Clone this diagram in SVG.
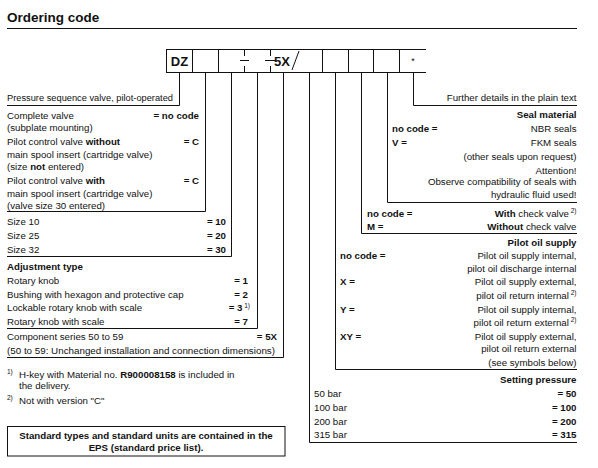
<svg xmlns="http://www.w3.org/2000/svg" width="598" height="468" viewBox="0 0 598 468">
<style>
text{font-family:"Liberation Sans",Arial,sans-serif;font-size:9.7px;fill:#111}
.b{font-weight:bold}
.r{text-anchor:end}
.c{text-anchor:middle}
.t{font-size:13.5px;font-weight:bold}
.code{font-size:13px;font-weight:bold}
.sup{font-size:6.5px}
.ln{stroke:#111;stroke-width:1;fill:none}
</style>
<rect width="598" height="468" fill="#fff"/>
<g id="title">
<text x="7" y="22" class="t">Ordering code</text>
<line class="ln" x1="7" y1="28.5" x2="577" y2="28.5"/>
</g>
<g id="code-box">
<path class="ln" d="M166,49.5H426M166,72.5H426M166.5,49.5V72.5M192.5,49.5V72.5M218.5,49.5V72.5M322.5,49.5V72.5M348.5,49.5V72.5M373.5,49.5V72.5M399.5,49.5V72.5"/>
<path class="ln" d="M244.5,49.5V56M244.5,66V72.5M270.5,49.5V56M270.5,66V72.5M240,60.5H249M265,60.5H275"/>
<path class="ln" d="M292,70L299,51"/>
<text x="179.5" y="65.5" class="code c">DZ</text>
<text x="274" y="65.5" class="code">5X</text>
<text x="413" y="64" class="c" style="font-size:9px">*</text>
</g>
<g id="connectors">
<path class="ln" d="M179.5,72.5V105.5H7"/>
<path class="ln" d="M205.5,72.5V211.5H7"/>
<path class="ln" d="M231.5,72.5V256.5H7"/>
<path class="ln" d="M257.5,72.5V328.5H7"/>
<path class="ln" d="M283.5,72.5V357.5H7"/>
<path class="ln" d="M309.5,72.5V442.5H577"/>
<path class="ln" d="M335.5,72.5V369.5H577"/>
<path class="ln" d="M361.5,72.5V233.5H577"/>
<path class="ln" d="M387.5,72.5V202.5H577"/>
<path class="ln" d="M413.5,72.5V105.5H577"/>
</g>
<g id="type">
<text x="7" y="100.5" textLength="166" lengthAdjust="spacingAndGlyphs">Pressure sequence valve, pilot-operated</text>
</g>
<g id="version">
<text x="7" y="118.5">Complete valve</text>
<text x="199" y="118.5" class="b r">= no code</text>
<text x="7" y="131">(subplate mounting)</text>
<text x="7" y="145">Pilot control valve <tspan class="b">without</tspan></text>
<text x="199" y="145" class="b r">= C</text>
<text x="7" y="157.5">main spool insert (cartridge valve)</text>
<text x="7" y="170">(size <tspan class="b">not</tspan> entered)</text>
<text x="7" y="184">Pilot control valve <tspan class="b">with</tspan></text>
<text x="199" y="184" class="b r">= C</text>
<text x="7" y="196.5">main spool insert (cartridge valve)</text>
<text x="7" y="208.5">(valve size 30 entered)</text>
</g>
<g id="size">
<text x="7" y="224.5">Size 10</text>
<text x="226" y="224.5" class="b r">= 10</text>
<text x="7" y="238.5">Size 25</text>
<text x="226" y="238.5" class="b r">= 20</text>
<text x="7" y="252.5">Size 32</text>
<text x="226" y="252.5" class="b r">= 30</text>
</g>
<g id="adjustment">
<text x="7" y="269.5" class="b">Adjustment type</text>
<text x="7" y="283.5">Rotary knob</text>
<text x="248" y="283.5" class="b r">= 1</text>
<text x="7" y="297.5">Bushing with hexagon and protective cap</text>
<text x="248" y="297.5" class="b r">= 2</text>
<text x="7" y="311">Lockable rotary knob with scale</text>
<text x="250" y="311" class="r"><tspan class="b">= 3</tspan><tspan class="sup" dy="-3.5"> 1)</tspan></text>
<text x="7" y="325">Rotary knob with scale</text>
<text x="248" y="325" class="b r">= 7</text>
</g>
<g id="series">
<text x="7" y="340">Component series 50 to 59</text>
<text x="277" y="340" class="b r">= 5X</text>
<text x="7" y="353.5" textLength="268" lengthAdjust="spacingAndGlyphs">(50 to 59: Unchanged installation and connection dimensions)</text>
</g>
<g id="footnotes">
<text x="7" y="374" class="sup">1)</text>
<text x="19" y="377.5">H-key with Material no. <tspan class="b">R900008158</tspan> is included in</text>
<text x="19" y="389">the delivery.</text>
<text x="7" y="400" class="sup">2)</text>
<text x="19" y="403.5">Not with version "C"</text>
</g>
<g id="note">
<rect class="ln" x="7.5" y="426.5" width="277.5" height="29.5"/>
<text x="146" y="438.5" class="b c">Standard types and standard units are contained in the</text>
<text x="146" y="451" class="b c">EPS (standard price list).</text>
</g>
<g id="further">
<text x="576.5" y="100.5" class="r">Further details in the plain text</text>
</g>
<g id="seal">
<text x="576.5" y="118" class="b r">Seal material</text>
<text x="392" y="131.5" class="b">no code =</text>
<text x="576.5" y="131.5" class="r">NBR seals</text>
<text x="392" y="145.5" class="b">V =</text>
<text x="576.5" y="145.5" class="r">FKM seals</text>
<text x="576.5" y="159.5" class="r">(other seals upon request)</text>
<text x="576.5" y="173.5" class="r">Attention!</text>
<text x="576.5" y="185" class="r">Observe compatibility of seals with</text>
<text x="576.5" y="198" class="r">hydraulic fluid used!</text>
</g>
<g id="check-valve">
<text x="367" y="216.5" class="b">no code =</text>
<text x="576.5" y="216.5" class="r"><tspan class="b">With</tspan> check valve<tspan class="sup" dy="-3.5"> 2)</tspan></text>
<text x="367" y="230" class="b">M =</text>
<text x="576.5" y="230" class="r"><tspan class="b">Without</tspan> check valve</text>
</g>
<g id="pilot-oil">
<text x="576.5" y="245.5" class="b r">Pilot oil supply</text>
<text x="340" y="258.5" class="b">no code =</text>
<text x="576.5" y="258.5" class="r">Pilot oil supply internal,</text>
<text x="576.5" y="272" class="r">pilot oil discharge internal</text>
<text x="340" y="285" class="b">X =</text>
<text x="576.5" y="285" class="r">Pilot oil supply external,</text>
<text x="576.5" y="298.5" class="r">pilot oil return internal<tspan class="sup" dy="-3.5"> 2)</tspan></text>
<text x="340" y="312.5" class="b">Y =</text>
<text x="576.5" y="312.5" class="r">Pilot oil supply internal,</text>
<text x="576.5" y="325.5" class="r">pilot oil return external<tspan class="sup" dy="-3.5"> 2)</tspan></text>
<text x="340" y="340" class="b">XY =</text>
<text x="576.5" y="340" class="r">Pilot oil supply external,</text>
<text x="576.5" y="351.5" class="r">pilot oil return external</text>
<text x="576.5" y="366" class="r">(see symbols below)</text>
</g>
<g id="pressure">
<text x="576.5" y="382.5" class="b r">Setting pressure</text>
<text x="314" y="397">50 bar</text>
<text x="576.5" y="397" class="b r">= 50</text>
<text x="314" y="410.5">100 bar</text>
<text x="576.5" y="410.5" class="b r">= 100</text>
<text x="314" y="424.5">200 bar</text>
<text x="576.5" y="424.5" class="b r">= 200</text>
<text x="314" y="438">315 bar</text>
<text x="576.5" y="438" class="b r">= 315</text>
</g>
</svg>
